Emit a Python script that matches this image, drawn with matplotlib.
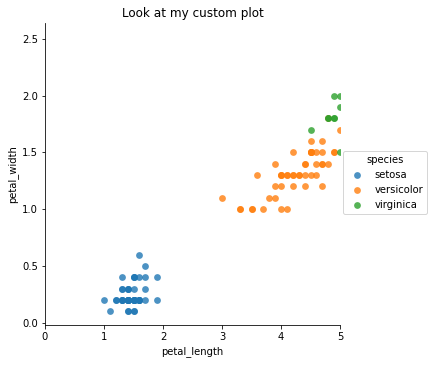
import matplotlib
matplotlib.use('Agg')
import matplotlib.pyplot as plt
import numpy as np

# iris petal measurements visible in the x range 0-5
setosa_len = [1.4, 1.4, 1.3, 1.5, 1.4, 1.7, 1.4, 1.5, 1.4, 1.5, 1.5, 1.6, 1.4, 1.1, 1.2,
              1.5, 1.3, 1.4, 1.7, 1.5, 1.7, 1.5, 1.0, 1.7, 1.9, 1.6, 1.6, 1.5, 1.4, 1.6,
              1.6, 1.5, 1.5, 1.4, 1.5, 1.2, 1.3, 1.4, 1.3, 1.5, 1.3, 1.3, 1.3, 1.6, 1.9,
              1.4, 1.6, 1.4, 1.5, 1.4]
setosa_wid = [0.2, 0.2, 0.2, 0.2, 0.2, 0.4, 0.3, 0.2, 0.2, 0.1, 0.2, 0.2, 0.1, 0.1, 0.2,
              0.4, 0.4, 0.3, 0.3, 0.3, 0.2, 0.4, 0.2, 0.5, 0.2, 0.2, 0.4, 0.2, 0.2, 0.2,
              0.2, 0.4, 0.1, 0.2, 0.2, 0.2, 0.2, 0.1, 0.2, 0.2, 0.3, 0.3, 0.2, 0.6, 0.4,
              0.3, 0.2, 0.2, 0.2, 0.2]

versicolor_len = [4.7, 4.5, 4.9, 4.0, 4.6, 4.5, 4.7, 3.3, 4.6, 3.9, 3.5, 4.2, 4.0, 4.7, 3.6,
                  4.4, 4.5, 4.1, 4.5, 3.9, 4.8, 4.0, 4.9, 4.7, 4.3, 4.4, 4.8, 5.0, 4.5, 3.5,
                  3.8, 3.7, 3.9, 4.5, 4.5, 4.7, 4.4, 4.1, 4.0, 4.4, 4.6, 4.0, 3.3, 4.2,
                  4.2, 4.2, 4.3, 3.0, 4.1]
versicolor_wid = [1.4, 1.5, 1.5, 1.3, 1.5, 1.3, 1.6, 1.0, 1.3, 1.4, 1.0, 1.5, 1.0, 1.4, 1.3,
                  1.4, 1.5, 1.0, 1.5, 1.1, 1.8, 1.3, 1.5, 1.2, 1.3, 1.4, 1.4, 1.7, 1.5, 1.0,
                  1.1, 1.0, 1.2, 1.5, 1.6, 1.5, 1.3, 1.3, 1.3, 1.2, 1.4, 1.2, 1.0, 1.3,
                  1.2, 1.3, 1.3, 1.1, 1.3]

virginica_len = [4.5, 5.0, 5.0, 4.9, 4.9, 4.8, 4.9, 4.8, 5.0]
virginica_wid = [1.7, 2.0, 1.5, 2.0, 1.8, 1.8, 1.8, 1.8, 1.9]

species = ['setosa', 'versicolor', 'virginica']
colors = ['#1f77b4', '#ff7f0e', '#2ca02c']

fig = plt.figure(figsize=(431 / 72, 365 / 72), dpi=72)
ax = fig.add_axes([45 / 431, 40 / 365, 295 / 431, 302 / 365])

data = [(setosa_len, setosa_wid), (versicolor_len, versicolor_wid), (virginica_len, virginica_wid)]
for (x, y), name, c in zip(data, species, colors):
    ax.scatter(x, y, s=46, color=c, alpha=0.8, linewidths=0, label=name)

ax.set_xlim(0, 5)
ax.set_ylim(-0.02, 2.64)
ax.set_xticks(np.arange(0, 6, 1))
ax.set_yticks(np.arange(0, 2.6, 0.5))
ax.spines['top'].set_visible(False)
ax.spines['right'].set_visible(False)
ax.set_xlabel('petal_length', fontsize=10)
ax.set_ylabel('petal_width', fontsize=10)
ax.tick_params(labelsize=10)
ax.set_title('Look at my custom plot', fontsize=12)

leg = fig.legend(title='species', loc='center left', bbox_to_anchor=(0.7835, 0.5),
                 fontsize=10, title_fontsize=10, frameon=True, scatterpoints=1)

fig.savefig('out.png', dpi=72)
